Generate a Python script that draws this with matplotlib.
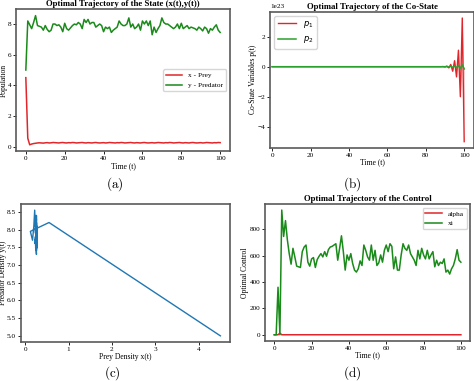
import numpy as np
import matplotlib.pyplot as plt

plt.rcParams['font.family'] = ['Liberation Serif', 'DejaVu Serif']
plt.rcParams['font.size'] = 5.5

t = np.arange(0, 101)

# state: prey x(t), predator y(t)
prey = [4.5, 0.55, 0.12, 0.17, 0.2, 0.22, 0.24, 0.25, 0.24, 0.23,
        0.25, 0.26, 0.24, 0.25, 0.27, 0.26, 0.25, 0.24, 0.26, 0.27,
        0.25, 0.24, 0.26, 0.25, 0.27, 0.26, 0.24, 0.25, 0.26, 0.27,
        0.25, 0.24, 0.26, 0.25, 0.24, 0.26, 0.27, 0.25, 0.24, 0.25,
        0.26, 0.24, 0.25, 0.27, 0.26, 0.25, 0.24, 0.26, 0.25, 0.27,
        0.26, 0.24, 0.25, 0.26, 0.27, 0.25, 0.24, 0.26, 0.25, 0.24,
        0.26, 0.27, 0.25, 0.24, 0.25, 0.26, 0.24, 0.25, 0.27, 0.26,
        0.25, 0.24, 0.26, 0.25, 0.27, 0.26, 0.24, 0.25, 0.26, 0.27,
        0.25, 0.24, 0.26, 0.25, 0.24, 0.26, 0.27, 0.25, 0.24, 0.25,
        0.26, 0.24, 0.25, 0.27, 0.26, 0.25, 0.24, 0.26, 0.25, 0.27,
        0.26]
predator = [5.0, 8.2, 7.95, 7.7, 8.1, 8.55, 7.9, 7.85, 7.8, 7.6,
            7.9, 7.65, 7.5, 7.6, 8.0, 8.0, 7.9, 7.95, 7.8, 7.5,
            8.05, 7.7, 7.6, 7.75, 7.9, 8.0, 7.95, 8.1, 8.0, 7.7,
            8.3, 8.1, 8.3, 8.0, 8.1, 8.1, 7.8, 7.9, 8.0, 7.9,
            7.5, 7.8, 7.7, 7.8, 7.45, 7.6, 7.7, 7.8, 8.2, 8.0,
            7.9, 7.9, 8.0, 8.4, 7.8, 8.0, 7.7, 7.8, 8.0, 7.6,
            8.2, 8.0, 8.2, 7.9, 8.2, 7.3, 7.8, 7.45, 7.7, 7.9,
            8.4, 8.1, 8.0, 8.0, 7.9, 7.8, 7.7, 7.8, 8.0, 7.7,
            8.05, 7.7, 7.8, 7.9, 7.7, 7.8, 7.75, 7.7, 7.6, 7.8,
            7.7, 7.55, 7.8, 7.7, 7.4, 7.7, 7.6, 7.8, 7.95, 7.6,
            7.45]

# co-state (units of 1e23), zero until the end
p1_tail = [0.01, -0.02, 0.04, -0.08, 0.15, -0.3, 0.4, -0.68, 1.1, -2.0, 3.25, -5.0]
p2_tail = [0.0, 0.01, -0.02, 0.03, -0.04, 0.05, -0.06, 0.08, -0.1, 0.12, -0.15]
p1 = np.array([0.0] * (101 - len(p1_tail)) + p1_tail) * 1e23
p2 = np.array([0.0] * (101 - len(p2_tail)) + p2_tail) * 1e23

# controls
alpha = [0, 0, 0, 12, 0] + [0] * 96
xi = [0, 0, 360, 0, 945, 745, 865, 720, 615, 535,
      655, 590, 520, 515, 510, 630, 665, 680, 550, 520,
      575, 585, 510, 570, 595, 615, 590, 630, 595, 645,
      665, 670, 680, 690, 565, 655, 750, 630, 490, 605,
      565, 615, 540, 490, 475, 500, 560, 525, 680, 640,
      590, 565, 680, 565, 640, 525, 545, 605, 550, 640,
      680, 630, 690, 670, 500, 590, 490, 490, 605, 690,
      655, 640, 680, 615, 590, 565, 525, 640, 575, 655,
      605, 575, 640, 575, 605, 630, 515, 565, 525, 550,
      540, 575, 475, 490, 460, 500, 525, 575, 645, 565,
      550]

RED = '#e0262a'
GREEN = '#1a8a1a'
SPINE = '#5a5a5a'

fig = plt.figure(figsize=(4.74, 3.81), dpi=100)
ax_a = fig.add_axes([0.034, 0.603, 0.451, 0.373])
ax_b = fig.add_axes([0.570, 0.612, 0.430, 0.357])
ax_c = fig.add_axes([0.044, 0.102, 0.441, 0.363])
ax_d = fig.add_axes([0.559, 0.105, 0.433, 0.360])


def style(ax):
    for s in ax.spines.values():
        s.set_color(SPINE)
        s.set_linewidth(1.2)
    ax.tick_params(labelsize=5.2, length=2.5, width=0.6, pad=1)


# (a)
ax_a.plot(t, prey, color=RED, lw=1.1, label='x - Prey')
ax_a.plot(t, predator, color=GREEN, lw=1.1, label='y - Predator')
ax_a.set_title('Optimal Trajectory of the State (x(t),y(t))', fontweight='bold', fontsize=6.3, pad=2)
ax_a.set_xlabel('Time (t)', labelpad=0.5)
ax_a.set_ylabel('Population', labelpad=0)
ax_a.set_yticks([0, 2, 4, 6, 8])
ax_a.legend(loc='center right', fontsize=5.3, handlelength=2.2)
style(ax_a)

# (b)
ax_b.fill_between(t, p1, 0, color=RED, alpha=0.35, lw=0)
ax_b.plot(t, p1, color=RED, lw=1.0, label='$p_1$')
ax_b.plot(t, p2, color='#2ca02c', lw=1.1, label='$p_2$')
ax_b.set_xlim(-1, 105.1)
ax_b.set_title('Optimal Trajectory of the Co-State', fontweight='bold', fontsize=6.3, pad=2)
ax_b.set_xlabel('Time (t)', labelpad=0.5)
ax_b.set_ylabel('Co-State Variables p(t)', labelpad=0.5)
ax_b.set_yticks([-4e23, -2e23, 0, 2e23])
ax_b.legend(loc='upper left', fontsize=6, handlelength=2.2)
style(ax_b)
ax_b.yaxis.get_offset_text().set_fontsize(5.2)

# (c)
ax_c.plot(prey, predator, color='#1f77b4', lw=1.0)
ax_c.set_xlabel('Prey Density x(t)', labelpad=0.5)
ax_c.set_ylabel('Predator Density y(t)', labelpad=0)
style(ax_c)

# (d)
ax_d.plot(t, alpha, color=RED, lw=1.1, label='alpha')
ax_d.plot(t, xi, color=GREEN, lw=1.1, label='xi')
ax_d.set_title('Optimal Trajectory of the Control', fontweight='bold', fontsize=6.3, pad=2)
ax_d.set_xlabel('Time (t)', labelpad=0.5)
ax_d.set_ylabel('Optimal Control', labelpad=0.5)
ax_d.legend(loc='upper right', fontsize=5.3, handlelength=2.2)
style(ax_d)

for x, y, lab in [(0.243, 0.517, '(a)'), (0.743, 0.517, '(b)'),
                  (0.238, 0.022, '(c)'), (0.743, 0.022, '(d)')]:
    fig.text(x, y, r'$\mathrm{' + lab + '}$', ha='center', va='center',
             fontsize=9.5, math_fontfamily='cm')

fig.savefig('out.png', dpi=100)
